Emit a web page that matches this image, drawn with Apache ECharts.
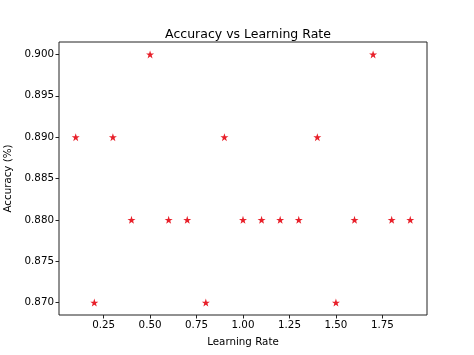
<!DOCTYPE html>
<html>
<head>
<meta charset="utf-8">
<script src="https://cdn.jsdelivr.net/npm/echarts@6/dist/echarts.min.js"></script>
<style>html,body{margin:0;padding:0;background:#fff}#c{width:474px;height:355px}</style>
</head>
<body>
<div id="c"></div>
<script>
const learningRates = [0.1, 0.2, 0.3, 0.4, 0.5, 0.6, 0.7, 0.8, 0.9, 1.0, 1.1, 1.2, 1.3, 1.4, 1.5, 1.6, 1.7, 1.8, 1.9];
const accuracies = [0.89, 0.87, 0.89, 0.88, 0.90, 0.88, 0.88, 0.87, 0.89, 0.88, 0.88, 0.88, 0.88, 0.89, 0.87, 0.88, 0.90, 0.88, 0.88];
const xTicks = [0.25, 0.50, 0.75, 1.00, 1.25, 1.50, 1.75];
const yTicks = [0.870, 0.875, 0.880, 0.885, 0.890, 0.895, 0.900];

const font = 'DejaVu Sans';
const star = 'path://M50,0 L61.8,35.1 L97.6,34.5 L69,56 L79.4,90.5 L50,69.5 L20.6,90.5 L31,56 L2.4,34.5 L38.2,35.1 Z';

const chart = echarts.init(document.getElementById('c'), null, {renderer: 'canvas'});
chart.setOption({
  animation: false,
  title: {
    text: 'Accuracy vs Learning Rate',
    left: 243, top: 23, textAlign: 'center',
    textStyle: {fontFamily: font, fontSize: 12.5, fontWeight: 'normal', color: '#000'}
  },
  grid: {left: 59, top: 42, right: 47, bottom: 40, show: true, borderColor: '#222', borderWidth: 1,
    backgroundColor: 'transparent', containLabel: false, outerBoundsMode: 'none'},
  xAxis: {
    type: 'value', min: 0.01, max: 1.99,
    name: 'Learning Rate', nameLocation: 'middle', nameGap: 22,
    nameTextStyle: {fontFamily: font, fontSize: 10.3, color: '#000'},
    axisLine: {show: false},
    splitLine: {show: false},
    axisTick: {show: true, inside: false, length: 3.5, customValues: xTicks, lineStyle: {color: '#222'}},
    axisLabel: {customValues: xTicks, fontFamily: font, fontSize: 10.3, color: '#000', margin: 5,
      formatter: v => v.toFixed(2)}
  },
  yAxis: {
    type: 'value', min: 0.8685, max: 0.9015,
    name: 'Accuracy (%)', nameLocation: 'middle', nameGap: 41, nameRotate: 90,
    nameTextStyle: {fontFamily: font, fontSize: 10.3, color: '#000'},
    axisLine: {show: false},
    splitLine: {show: false},
    axisTick: {show: true, inside: false, length: 3.5, customValues: yTicks, lineStyle: {color: '#222'}},
    axisLabel: {customValues: yTicks, fontFamily: font, fontSize: 10.3, color: '#000', margin: 5,
      formatter: v => v.toFixed(3)}
  },
  series: [{
    type: 'scatter',
    data: learningRates.map((x, i) => [x, accuracies[i]]),
    symbol: star,
    symbolSize: 8,
    itemStyle: {color: '#e8202a', opacity: 1}
  }]
});
</script>
</body>
</html>
